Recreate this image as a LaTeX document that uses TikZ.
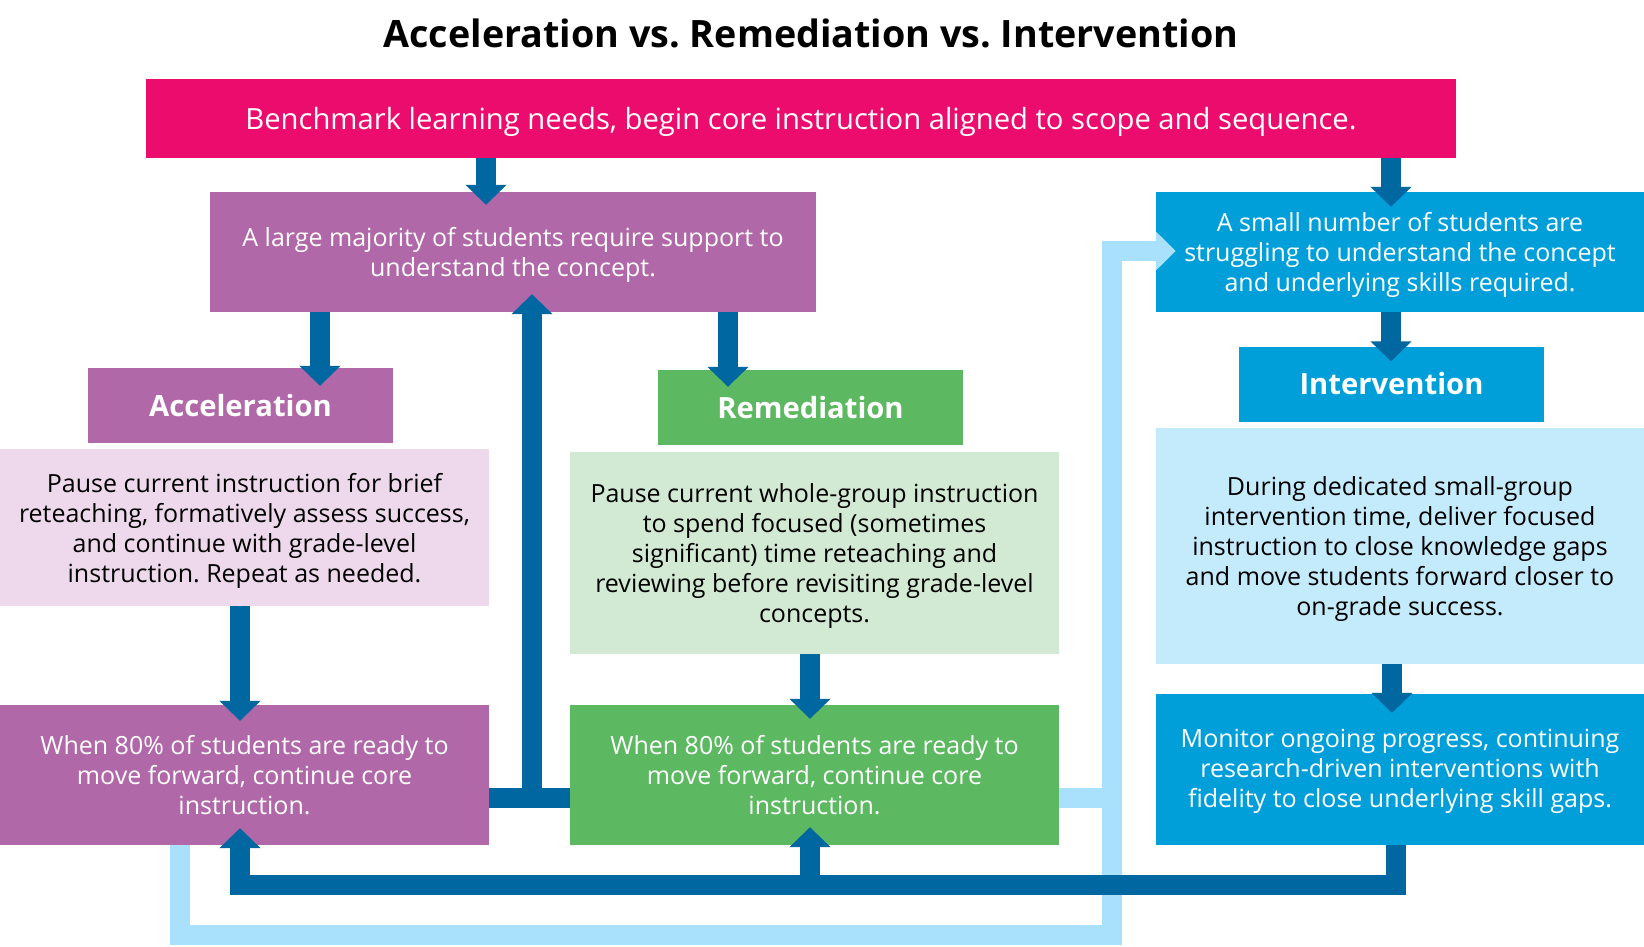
\documentclass[tikz,border=0pt]{standalone}
\usepackage{fontspec}
\setmainfont{Open Sans}
\usetikzlibrary{arrows.meta,calc}
\definecolor{cPink}{HTML}{EC0C6E}
\definecolor{cPurple}{HTML}{B168A8}
\definecolor{cPurpleL}{HTML}{EDD9EB}
\definecolor{cGreen}{HTML}{5DB961}
\definecolor{cGreenL}{HTML}{D2EAD3}
\definecolor{cBlue}{HTML}{019FDA}
\definecolor{cBlueL}{HTML}{C4EBFC}
\definecolor{cDark}{HTML}{0067A0}
\definecolor{cLight}{HTML}{A9E1FC}
\newcommand{\mystrut}{\rule{0pt}{1em}}
\frenchspacing
\begin{document}
\begin{tikzpicture}[x=1pt,y=-1pt,
  boxbase/.style={rectangle, inner sep=0pt, align=center, text=white},
  box/.style={boxbase, font=\fontsize{25}{30}\selectfont},
  lbox/.style={box, text=black},
  head/.style={boxbase, font=\fontsize{29.2}{35}\bfseries\selectfont, minimum width=305pt, minimum height=75pt},
  dline/.style={draw=cDark, line width=20pt, line join=miter},
  darr/.style={dline, -{Triangle[width=40pt,length=20pt]}},
  lline/.style={draw=cLight, line width=20pt, line join=miter},
  larr/.style={lline, -{Triangle[width=38pt,length=20pt]}}
]
\useasboundingbox (0,0) rectangle (1644,946);
\fill[white] (0,0) rectangle (1644,946);

\node[font=\fontsize{37.7}{44}\bfseries\selectfont, anchor=base] (title) at (811,47) {Acceleration vs. Remediation vs. Intervention};

\node[box, fill=cPink, minimum width=1310pt, minimum height=79pt, font=\fontsize{29.2}{34}\selectfont] (bench) at (801,118.5) {\mystrut Benchmark learning needs, begin core instruction aligned to scope and sequence.};

\node[box, fill=cPurple, minimum width=606pt, minimum height=120pt] (maj) at (513,252) {\mystrut A large majority of students require support to\\understand the concept.};
\node[box, fill=cBlue, minimum width=488pt, minimum height=120pt] (small) at (1400,252) {\mystrut A small number of students are\\struggling to understand the concept\\and underlying skills required.};

\node[head, fill=cPurple] (acch) at (240.5,405.5) {Acceleration};
\node[head, fill=cGreen] (remh) at (810.5,407.5) {Remediation};
\node[head, fill=cBlue] (inth) at (1391.5,384) {Intervention};

\node[lbox, fill=cPurpleL, minimum width=489pt, minimum height=157pt] (accb) at (244.5,527.5) {\mystrut Pause current instruction for brief\\reteaching, formatively assess success,\\and continue with grade-level\\instruction. Repeat as needed.};
\node[lbox, fill=cGreenL, minimum width=489pt, minimum height=202pt] (remb) at (814.5,553) {\mystrut Pause current whole-group instruction\\to spend focused (sometimes\\significant) time reteaching and\\reviewing before revisiting grade-level\\concepts.};
\node[lbox, fill=cBlueL, minimum width=488pt, minimum height=236pt] (intb) at (1400,546) {\mystrut During dedicated small-group\\intervention time, deliver focused\\instruction to close knowledge gaps\\and move students forward closer to\\on-grade success.};

\node[box, fill=cPurple, minimum width=489pt, minimum height=140pt] (accw) at (244.5,775) {When 80\% of students are ready to\\move forward, continue core\\instruction.};
\node[box, fill=cGreen, minimum width=489pt, minimum height=140pt] (remw) at (814.5,775) {When 80\% of students are ready to\\move forward, continue core\\instruction.};
\node[box, fill=cBlue, minimum width=488pt, minimum height=151pt] (intw) at (1400,769.5) {\rule{0pt}{21pt}Monitor ongoing progress, continuing\\research-driven interventions with\\fidelity to close underlying skill gaps.};

% column / row coordinates
\coordinate (xa) at (486,0);
\coordinate (xb) at (1391,0);
\coordinate (xc) at (320,0);
\coordinate (xd) at (728,0);
\coordinate (xe) at (240,0);
\coordinate (xf) at (810,0);
\coordinate (xg) at (1392,0);
\coordinate (xu) at (532,0);
\coordinate (xi) at (1396,0);
\coordinate (xl) at (180,0);
\coordinate (xr) at (1112,0);
\coordinate (ym) at (0,797.5);
\coordinate (yb) at (0,885);
\coordinate (ylb) at (0,935);
\coordinate (ylt) at (0,251);

% light loop
\draw[lline] (remw.east |- ym) -- (xr |- ym);
\draw[larr] (xl |- accw.south) -- (xl |- ylb) -- (xr |- ylb) -- (xr |- ylt) -- ($(small.west |- ylt)+(20,0)$);

% straight arrows
\draw[darr] (xa |- bench.south) -- ($(xa |- maj.north)+(0,13)$);
\draw[darr] (xb |- bench.south) -- ($(xb |- small.north)+(0,15)$);
\draw[darr] (xc |- maj.south) -- ($(xc |- acch.north)+(0,18)$);
\draw[darr] (xd |- maj.south) -- ($(xd |- remh.north)+(0,17)$);
\draw[darr] (xe |- accb.south) -- ($(xe |- accw.north)+(0,16)$);
\draw[darr] (xf |- remb.south) -- ($(xf |- remw.north)+(0,14)$);
\draw[darr] (xb |- small.south) -- ($(xb |- inth.north)+(0,15)$);
\draw[darr] (xg |- intb.south) -- ($(xg |- intw.north)+(0,19)$);

% middle return
\draw[dline] (accw.east |- ym) -- (remw.west |- ym);
\draw[darr] (xu |- ym) -- ($(xu |- maj.south)+(0,-18)$);

% bottom loop
\draw[darr] (xi |- intw.south) -- (xi |- yb) -- (xe |- yb) -- ($(xe |- accw.south)+(0,-17)$);
\draw[darr] (xf |- yb) -- ($(xf |- remw.south)+(0,-18)$);
\end{tikzpicture}
\end{document}
